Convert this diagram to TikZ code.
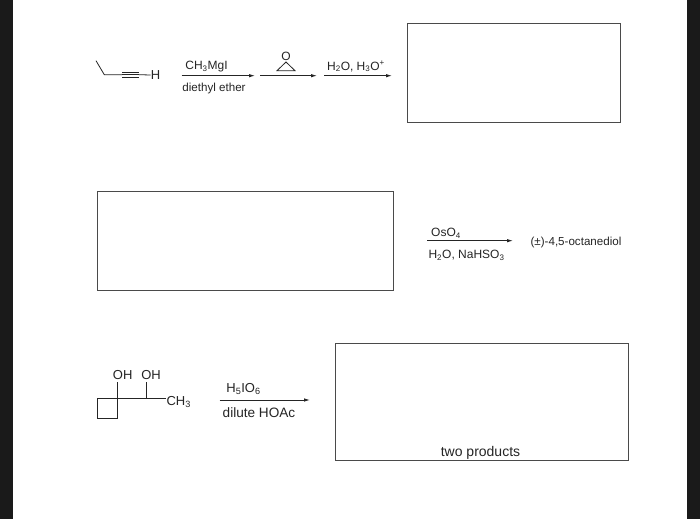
\documentclass[tikz,border=0pt]{standalone}
\usepackage{fontspec}
\setmainfont{Liberation Sans}
\usetikzlibrary{arrows.meta}
\definecolor{ink}{HTML}{252525}
\definecolor{boxline}{HTML}{4A4A4A}
\definecolor{bar}{HTML}{1A1A1A}
\tikzset{
  lbl/.style={text=ink,font=\fontsize{12}{14}\selectfont,inner sep=0pt},
  small/.style={text=ink,font=\fontsize{11.6}{13}\selectfont,inner sep=0pt},
  big/.style={text=ink,font=\fontsize{13}{15}\selectfont,inner sep=0pt},
  answerbox/.style={draw=boxline,line width=1pt,fill=white,anchor=north west,inner sep=0pt},
  bond/.style={draw=ink,line width=0.8pt},
  rxn/.style={draw=ink,line width=0.9pt,-{Latex[length=6pt,width=3.5pt]}},
}
\begin{document}
\begin{tikzpicture}[x=1pt,y=-1pt]
\useasboundingbox (0,0) rectangle (700,519);
\fill[white] (0,0) rectangle (700,519);
\fill[bar] (0,0) rectangle (13.4,519);
\fill[bar] (686.6,0) rectangle (700,519);
% answer boxes
\node[answerbox,minimum width=213pt,minimum height=99pt] (box1) at (407,23) {};
\node[answerbox,minimum width=296pt,minimum height=99pt] (box2) at (97,191) {};
\node[answerbox,minimum width=293pt,minimum height=117pt] (box3) at (335,343) {};
\node[lbl,font=\fontsize{14}{16}\selectfont] (twoprod) at (480.5,453) {two products};
% alkyne
\coordinate (a1) at (96,60.7);
\coordinate (a2) at (104.3,74.7);
\coordinate (a3) at (122,74.7);
\coordinate (a4) at (139,74.7);
\node[big] (hatom) at (155.5,75) {H};
\draw[bond] (a1) -- (a2) -- (a3);
\draw[bond] (a3) -- (a4);
\draw[bond] ([yshift=-2.2pt]a3) -- ([yshift=-2.2pt]a4);
\draw[bond] ([yshift=2.2pt]a3) -- ([yshift=2.2pt]a4);
\draw[bond] (a4) -- (hatom.west);
% row 1 arrows
\coordinate (r1a) at (181.7,75.7); \coordinate (r1b) at (255,75.7);
\coordinate (r2a) at (260,75.7); \coordinate (r2b) at (317,75.7);
\coordinate (r3a) at (324,75.7); \coordinate (r3b) at (392,75.7);
\draw[rxn] (r1a) -- (r1b);
\draw[rxn] (r2a) -- (r2b);
\draw[rxn] (r3a) -- (r3b);
\node[lbl] (grig) at (206.5,66.5) {CH\textsubscript{3}MgI};
\node[small] (ether) at (214,88.5) {diethyl ether};
\node[lbl] (water) at (356,66.5) {H\textsubscript{2}O, H\textsubscript{3}O\textsuperscript{+}};
% epoxide
\node[lbl] (oxy) at (286,56.5) {O};
\coordinate (e0) at (286,62);
\coordinate (e1) at (277,70.7);
\coordinate (e2) at (295,70.7);
\draw[bond] (e0) -- (e1) -- (e2) -- cycle;
% row 2
\coordinate (r4a) at (427,240.7); \coordinate (r4b) at (513,240.7);
\draw[rxn] (r4a) -- (r4b);
\node[lbl] (oso) at (446,233) {OsO\textsubscript{4}};
\node[lbl] (nahso) at (466.5,255) {H\textsubscript{2}O, NaHSO\textsubscript{3}};
\node[small] (diol) at (576,242) {(±)-4,5-octanediol};
% row 3
\node[big] (oh1) at (122.7,375) {OH};
\node[big] (oh2) at (151,375) {OH};
\node[big] (me) at (178.7,402) {CH\textsubscript{3}};
\coordinate (c1) at (117.5,398);
\coordinate (c2) at (117.5,418.7);
\coordinate (c3) at (97.5,418.7);
\coordinate (c4) at (97.5,398);
\coordinate (c5) at (146,398);
\coordinate (c6) at (146,382);
\coordinate (c7) at (117.5,382);
\draw[bond] (c1) -- (c2) -- (c3) -- (c4) -- cycle;
\draw[bond] (c7) -- (c1) -- (c5) -- (c6);
\draw[bond] (c5) -- (me.west |- c5);
\coordinate (r5a) at (219.7,400); \coordinate (r5b) at (310,400);
\draw[rxn] (r5a) -- (r5b);
\node[big] (hio) at (243.5,389) {H\textsubscript{5}IO\textsubscript{6}};
\node[lbl,font=\fontsize{13.6}{16}\selectfont] (hoac) at (259,412.5) {dilute HOAc};
\end{tikzpicture}
\end{document}
